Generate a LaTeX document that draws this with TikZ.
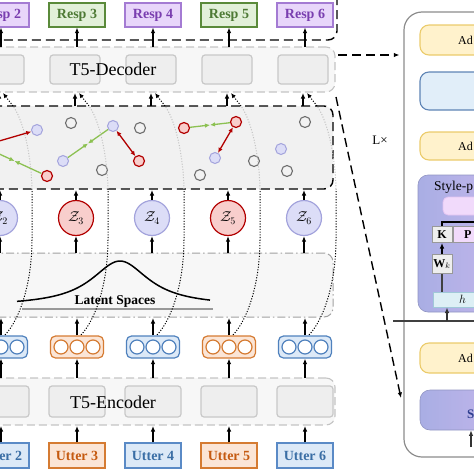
\documentclass[tikz,border=0pt]{standalone}
\usepackage{fontspec}
\setmainfont{Liberation Serif}
\usetikzlibrary{arrows.meta,calc}
\definecolor{respFP}{HTML}{E8D6FA}\definecolor{respDP}{HTML}{A47BD3}\definecolor{respTP}{HTML}{7A3FB0}
\definecolor{respFG}{HTML}{E2F0D9}\definecolor{respDG}{HTML}{5A8A3A}\definecolor{respTG}{HTML}{4E7A35}
\definecolor{uttFP}{HTML}{DCE9F7}\definecolor{uttDP}{HTML}{5A8AC6}\definecolor{uttTP}{HTML}{3A6EA5}
\definecolor{uttFG}{HTML}{FBE5D6}\definecolor{uttDG}{HTML}{D57B32}\definecolor{uttTG}{HTML}{C55A11}
\definecolor{zFP}{HTML}{DCDDF7}\definecolor{zDP}{HTML}{A3A3DC}
\definecolor{zFG}{HTML}{F8CECC}\definecolor{zDG}{HTML}{B20000}
\definecolor{blkFP}{HTML}{DCE9F7}\definecolor{blkDP}{HTML}{4F81BD}
\definecolor{blkFG}{HTML}{FBE5D6}\definecolor{blkDG}{HTML}{D57B32}
\definecolor{regF}{HTML}{F7F7F7}\definecolor{latF}{HTML}{F1F1F1}
\definecolor{grB}{HTML}{C4C4C4}\definecolor{grI}{HTML}{C8C8C8}\definecolor{grF}{HTML}{EEEEEE}
\definecolor{ddB}{HTML}{A0A0A0}\definecolor{ptGD}{HTML}{6E6E6E}
\definecolor{gArr}{HTML}{8CC152}
\definecolor{yelF}{HTML}{FFF2CC}\definecolor{yelD}{HTML}{EBCB6B}
\definecolor{bluF}{HTML}{E1EEF9}\definecolor{bluD}{HTML}{5E84B5}
\definecolor{stL}{HTML}{A9AEE4}\definecolor{stR}{HTML}{CDB8EE}
\definecolor{vioF}{HTML}{F1DAFB}\definecolor{vioD}{HTML}{E2C4F2}
\definecolor{hF}{HTML}{DDEFF5}\definecolor{hD}{HTML}{A0C8D8}
\definecolor{panD}{HTML}{8C8C8C}\definecolor{sT}{HTML}{2F3F8F}
\begin{document}
\begin{tikzpicture}[x=1pt,y=-1pt,
  arr/.style={-{Latex[length=5.5pt,width=4.5pt]}, line width=1.1pt},
  bdash/.style={dash pattern=on 9pt off 5pt, line width=1.4pt},
  gdash/.style={draw=grB, dash pattern=on 8pt off 4pt, line width=1.1pt},
  ddash/.style={draw=ddB, dash pattern=on 8pt off 3pt on 1.5pt off 3pt, line width=1pt},
  ddot/.style={dash pattern=on 1.1pt off 1.6pt, line width=1pt},
  region/.style={rectangle, rounded corners=9pt, inner sep=0pt},
  resp/.style={rectangle, line width=1.1pt, minimum width=56pt, minimum height=24pt, inner sep=0pt, font=\fontsize{14}{16}\selectfont\bfseries},
  utt/.style={rectangle, line width=1.1pt, minimum width=56pt, minimum height=25pt, inner sep=0pt, font=\fontsize{14}{16}\selectfont\bfseries},
  ibox/.style={rectangle, rounded corners=3pt, draw=grI, fill=grF, line width=1.2pt, inner sep=0pt},
  zc/.style={circle, minimum size=35pt, inner sep=0pt, line width=1.2pt, font=\fontsize{14}{16}\selectfont},
  blk/.style={rectangle, rounded corners=5pt, minimum width=53pt, minimum height=22pt, line width=1.2pt, inner sep=0pt},
  ptR/.style={circle, minimum size=11pt, inner sep=0pt, draw=zDG, fill=zFG, line width=1.2pt},
  ptP/.style={circle, minimum size=11pt, inner sep=0pt, draw=zDP, fill=zFP, line width=1pt},
  ptG/.style={circle, minimum size=11pt, inner sep=0pt, draw=ptGD, fill=white!95!black, line width=1.1pt},
  redarr/.style={{Latex[length=5pt,width=4.5pt]}-{Latex[length=5pt,width=4.5pt]}, draw=zDG, line width=1.3pt},
  garr/.style={-{Latex[length=5pt,width=4.5pt]}, draw=gArr, line width=1.3pt},
  pbox/.style={rectangle, rounded corners=9pt, inner sep=0pt, line width=1.1pt},
  sbox/.style={rectangle, inner sep=0pt, line width=1pt, draw=ptGD!70},
  lbl/.style={font=\fontsize{12}{14}\selectfont, inner sep=0pt}
]
\useasboundingbox (0,0) rectangle (474,474);
\clip (0,0) rectangle (474,474);

% ---------- regions ----------
\node[region, bdash, draw=black, minimum width=357pt, minimum height=70pt] (respframe) at (158.5,5) {};
\node[region, gdash, fill=regF, minimum width=355pt, minimum height=45pt] (decreg) at (157.5,69.5) {};
\node[region, bdash, draw=black, fill=latF, minimum width=353pt, minimum height=83pt] (latreg) at (156.5,147.5) {};
\node[region, ddash, fill=regF, minimum width=353pt, minimum height=64pt] (ldist) at (156.5,285) {};
\node[region, gdash, fill=regF, minimum width=355pt, minimum height=47pt] (encreg) at (157.5,401.5) {};

% ---------- right panel ----------
\node[rectangle, rounded corners=18pt, draw=panD, line width=1.2pt, minimum width=126pt, minimum height=445pt, inner sep=0pt] (panel) at (467,234.5) {};
\node[pbox, draw=yelD, fill=yelF, minimum width=120pt, minimum height=30pt] (add1) at (480,40) {};
\node[lbl, anchor=west] (add1t) at (458,40) {Ad};
\node[pbox, draw=bluD, fill=bluF, minimum width=120pt, minimum height=38pt] (ff) at (480,91) {};
\node[pbox, draw=yelD, fill=yelF, minimum width=120pt, minimum height=28pt] (add2) at (480,146) {};
\node[lbl, anchor=west] (add2t) at (458,146) {Ad};
\node[lbl, font=\fontsize{13}{15}\selectfont] (lx) at (380,140) {L×};
\node[rectangle, rounded corners=10pt, left color=stL, right color=stR, draw=stL!85!black, line width=0.6pt, minimum width=122pt, minimum height=137pt, inner sep=0pt] (style) at (479,243.5) {};
\node[lbl, anchor=west, font=\fontsize{13.5}{15}\selectfont] (stylet) at (434,187) {Style-p};
\node[rectangle, rounded corners=5pt, fill=vioF, draw=vioD, line width=0.8pt, minimum width=97pt, minimum height=18pt, inner sep=0pt] (inner) at (491.5,206) {};
\node[sbox, fill=grF, minimum width=20pt, minimum height=16pt, font=\fontsize{12}{14}\selectfont\bfseries] (K) at (442,234.5) {K};
\node[sbox, fill=vioF, minimum width=40pt, minimum height=16pt] (P) at (473,234.5) {};
\node[lbl, anchor=west, font=\fontsize{12}{14}\selectfont\bfseries] (Pt) at (464,234.5) {P};
\node[sbox, fill=grF, minimum width=20pt, minimum height=19pt, font=\fontsize{12}{14}\selectfont] (Wk) at (442,264) {$\mathbf{W}_{k}$};
\node[rectangle, fill=hF, draw=hD, line width=1pt, minimum width=107pt, minimum height=15pt, inner sep=0pt] (hbox) at (486.5,299.5) {};
\node[lbl, anchor=west, font=\fontsize{12}{14}\selectfont] (ht) at (459,299.5) {$h$};
\draw[line width=1.1pt] (K.north) -- (K.north |- 0,222) -- (480,222);
\draw[arr] (Wk.north) -- (K.south);
\draw[line width=1.1pt, draw=black!75] (hbox.north -| Wk.south) -- (Wk.south);
\coordinate (lineL) at (393,321);
\coordinate (lineR) at (480,321);
\draw[line width=1.2pt, draw=black!75] (lineL) -- (lineR);
\coordinate (hin) at (447,321);
\draw[arr, draw=black!80] (hin) -- (hin |- hbox.south);
\node[pbox, draw=yelD, fill=yelF, minimum width=120pt, minimum height=30pt] (add3) at (480,358) {};
\node[lbl, anchor=west] (add3t) at (458,358) {Ad};
\node[rectangle, rounded corners=10pt, left color=stL, right color=stR, draw=stL!85!black, line width=0.6pt, minimum width=120pt, minimum height=40pt, inner sep=0pt] (sa) at (480,410) {};
\node[lbl, anchor=west, text=sT, font=\fontsize{13}{15}\selectfont\bfseries] (sat) at (467,414) {S};
\coordinate (sain) at (471,447);
\draw[arr, draw=black!80] (sain) -- (sain |- sa.south);

% ---------- connections to panel ----------
\coordinate (da) at (338,55);
\draw[bdash, -{Latex[length=5.5pt,width=4.5pt]}] (da) -- ($(panel.west |- da)+(-4,0)$);
\coordinate (db) at (336,97);
\coordinate (dbe) at (401,398);
\draw[bdash, -{Latex[length=5.5pt,width=4.5pt]}] (db) -- (dbe);

% ---------- latent points ----------
\node[ptR] (q0) at (-18,146) {};
\node[ptP] (pa) at (37,130) {};
\node[ptG] (pb) at (71,123) {};
\node[ptP] (pc) at (63,161) {};
\node[ptP] (pd) at (113,126) {};
\node[ptR] (pe) at (47,176) {};
\node[ptG] (pf) at (102,170) {};
\node[ptR] (pg) at (139,161) {};
\node[ptG] (ph) at (140,128) {};
\node[ptR] (pi) at (184,128) {};
\node[ptR] (pj) at (236,122) {};
\node[ptP] (pk) at (215,158) {};
\node[ptG] (pl) at (200,175) {};
\node[ptG] (pm) at (305,122) {};
\node[ptP] (pn) at (281,149) {};
\node[ptG] (po) at (254,161) {};
\node[ptG] (pp) at (287,171) {};
\draw[redarr] (q0) -- (pa);
\draw[redarr] (pd) -- (pg);
\draw[redarr] (pj) -- (pk);
\foreach \u/\v in {q0/pe, pc/pd, pi/pj}{
  \draw[garr] (\u) -- ($(\u)!0.5!(\v)$);
  \draw[garr] (\v) -- ($(\u)!0.5!(\v)$);
}

% ---------- latent distribution ----------
\draw[line width=1.5pt] plot[domain=17:210, samples=80, smooth] (\x, {306-45/(1+((\x-120)/35)^2)});
\draw[line width=1.4pt, draw=black!40] (22,309) -- (213,309);
\node[font=\fontsize{13.5}{15}\selectfont\bfseries, inner sep=0pt] (lat) at (115,301) {Latent Spaces};

% ---------- columns ----------
\foreach \i/\c/\k in {2/1/P,3/77/G,4/153/P,5/229/G,6/305/P}{
  % dotted skip connections
  \coordinate (s1\i) at (\c+4,335);
  \coordinate (s2\i) at (\c+31,240);
  \coordinate (s3\i) at (\c+31,189);
  \coordinate (s4\i) at (\c+12,106);
  \coordinate (s5\i) at (\c+2,93);
  \draw[ddot] (s1\i) .. controls +(16,-17) and +(0,40) .. (s2\i) -- (s3\i);
  \draw[ddot, draw=grB] (s3\i) .. controls +(-1,-39) and +(9,12) .. (s4\i);
  \draw[ddot, -{Latex[length=5pt,width=4.5pt]}] (s4\i) -- (s5\i);
  % boxes
  \node[resp, fill=respF\k, draw=respD\k, text=respT\k] (resp\i) at (\c,15) {Resp \i};
  \node[ibox, minimum width=50pt, minimum height=29pt] (dec\i) at (\c-2,69.5) {};
  \node[zc, fill=zF\k, draw=zD\k] (z\i) at (\c-1,218) {$\mathcal{Z}_{\i}$};
  \node[blk, fill=blkF\k, draw=blkD\k] (blk\i) at (\c,347) {};
  \foreach \d in {-16,0,16}{\draw[draw=blkD\k, fill=white, line width=1.2pt] (\c+\d,347) circle[radius=7];}
  \node[ibox, minimum width=56pt, minimum height=31pt] (enc\i) at (\c,401.5) {};
  \node[utt, fill=uttF\k, draw=uttD\k, text=uttT\k] (utt\i) at (\c,455.5) {Utter \i};
  % arrows
  \coordinate (dt\i) at (\c,47);
  \draw[arr] (dt\i) -- (resp\i.south);
  \coordinate (lt\i) at (\c-2,106);
  \coordinate (db\i) at (\c-2,93);
  \draw[arr] (lt\i) -- (db\i);
  \coordinate (lb\i) at (\c-1,190);
  \draw[arr] (z\i.north) -- (lb\i);
  \coordinate (dd\i) at (\c-1,253);
  \draw[arr] (dd\i) -- (z\i.south);
  \coordinate (du\i) at (\c,318);
  \draw[arr] (blk\i.north) -- (du\i);
  \coordinate (et\i) at (\c,378);
  \draw[arr] (et\i) -- (blk\i.south);
  \coordinate (eb\i) at (\c,426);
  \draw[arr] (utt\i.north) -- (eb\i);
}
\node[font=\fontsize{18}{20}\selectfont, inner sep=0pt] (dect) at (113,69) {T5-Decoder};
\node[font=\fontsize{18}{20}\selectfont, inner sep=0pt] (enct) at (113,402) {T5-Encoder};
\end{tikzpicture}
\end{document}
